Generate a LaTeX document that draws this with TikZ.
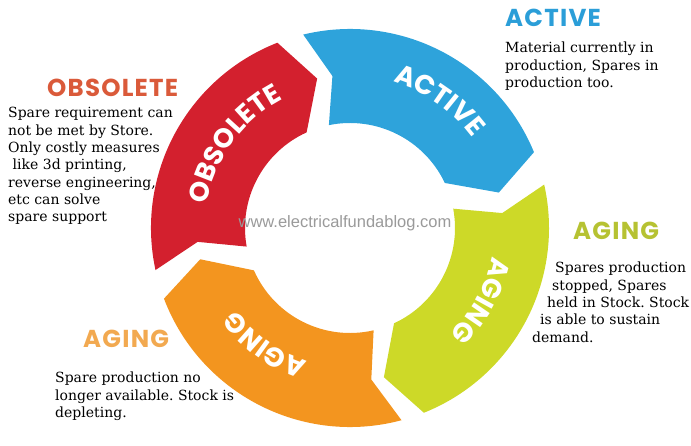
\documentclass[tikz,border=0pt]{standalone}
\usepackage{fontspec}
\setmainfont{DejaVu Serif}
\newfontfamily\popfont{Poppins}
\newfontfamily\popwide{Poppins}[LetterSpace=5]
\newfontfamily\wmfont{Liberation Sans}
\usetikzlibrary{decorations.text}
\definecolor{cblue}{HTML}{2EA3DB}
\definecolor{cgreen}{HTML}{CDD928}
\definecolor{corange}{HTML}{F3951F}
\definecolor{cred}{HTML}{D3202E}
\definecolor{tred}{HTML}{DA5A3A}
\definecolor{tblue}{HTML}{2B9ED8}
\definecolor{tgreen}{HTML}{B6C232}
\definecolor{torange}{HTML}{F2A950}
\definecolor{wmgray}{HTML}{9A9A9A}
\newcommand\cycseg[3]{\fill[#1] ({#2+7}:199pt) arc[start angle={#2+7}, end angle={#3+9}, radius=199pt] -- (#3:153pt) -- ({#3+12}:105pt) arc[start angle={#3+12}, end angle={#2+5}, radius=105pt] -- (#2:153pt) -- cycle;}
\tikzset{
  arclabel/.style={decorate, decoration={text along path, text={|\popfont\bfseries\fontsize{27}{27}\selectfont|#1}, text align=center, text color=white}},
  ttl/.style={font=\popwide\bfseries\fontsize{24.5}{24.5}\selectfont, anchor=base west, inner sep=0pt},
  desc/.style={anchor=base west, inner sep=0pt},
}
\newcommand\descbox[1]{\parbox[t]{200pt}{\fontsize{14}{17.3}\selectfont\frenchspacing\raggedright #1}}
\begin{document}
\begin{tikzpicture}
\useasboundingbox (-350pt,-218pt) rectangle (341pt,228pt);
% segments
\cycseg{cblue}{96.6}{13.4}
\cycseg{cgreen}{5.6}{-77.2}
\cycseg{corange}{-82}{-168.2}
\cycseg{cred}{185.2}{102.4}
% arc labels
\path[arclabel=ACTIVE] (95:152pt) arc[start angle=95, end angle=15, radius=152pt];
\path[arclabel=OBSOLETE] (190:145pt) arc[start angle=190, end angle=98, radius=145pt];
\path[arclabel=AGING] (11:145pt) arc[start angle=11, end angle=-69, radius=145pt];
\path[arclabel=AGING] (274:140pt) arc[start angle=274, end angle=194, radius=140pt];
% watermark
\node[font=\wmfont\fontsize{16.5}{17}\selectfont, text=wmgray, inner sep=0pt] (wm) at (-5pt,5pt) {www.electricalfundablog.com};
% titles
\node[ttl, text=tred] (tobs) at (-303pt,131pt) {OBSOLETE};
\node[ttl, text=tblue] (tact) at (155pt,201pt) {ACTIVE};
\node[ttl, text=tgreen] (tag1) at (223pt,-12pt) {AGING};
\node[ttl, text=torange] (tag2) at (-267pt,-120pt) {AGING};
% descriptions
\node[desc] (dobs) at (-342pt,110pt) {\descbox{Spare requirement can\\not be met by Store.\\Only costly measures\\\hspace*{4.5pt}like 3d printing,\\reverse engineering,\\etc can solve\\spare support}};
\node[desc] (dact) at (155pt,175pt) {\descbox{Material currently in\\production, Spares in\\production too.}};
\node[desc] (dag1) at (182pt,-45pt) {\descbox{\hspace*{23pt}Spares production\\\hspace*{20pt}stopped, Spares\\\hspace*{15pt}held in Stock. Stock\\\hspace*{8pt}is able to sustain\\demand.}};
\node[desc] (dag2) at (-295pt,-155pt) {\descbox{Spare production no\\longer available. Stock is\\depleting.}};
\end{tikzpicture}
\end{document}
